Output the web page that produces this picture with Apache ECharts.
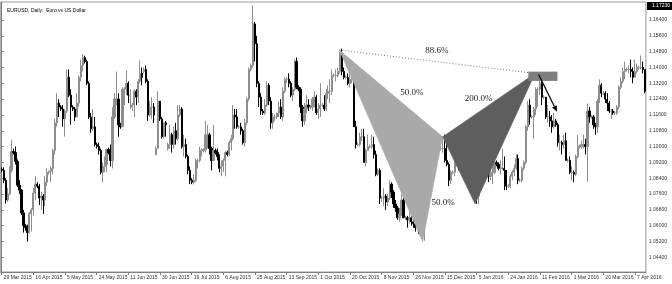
<!DOCTYPE html>
<html><head><meta charset="utf-8">
<script src="https://cdn.jsdelivr.net/npm/echarts@6/dist/echarts.min.js"></script>
<style>html,body{margin:0;padding:0;background:#fff}#c{width:672px;height:284px}</style>
</head><body><div id="c"></div>
<script>
// Tick labels on the time axis (one every 16 bars)
const tickLabels = ['29 Mar 2015','16 Apr 2015','5 May 2015','24 May 2015','11 Jun 2015','30 Jun 2015','19 Jul 2015','6 Aug 2015','25 Aug 2015','13 Sep 2015','1 Oct 2015','20 Oct 2015','8 Nov 2015','26 Nov 2015','15 Dec 2015','5 Jan 2016','24 Jan 2016','11 Feb 2016','1 Mar 2016','20 Mar 2016','7 Apr 2016'];
// Price scale ticks
const priceTicks = [1.044,1.052,1.060,1.068,1.076,1.084,1.092,1.100,1.108,1.116,1.124,1.132,1.140,1.148,1.156,1.164];

// Daily bars, price x 10000
const O = [
10885,10880,10830,10730,10760,10880, 10975,10970,10925,10805,10780,10665, 10600,10590,10565,10660,10680,10765,
10810,10800,10740,10750,10730,10820, 10870,10875,10890,10980,11120,11220, 11200,11190,11140,11180,11350,11260,
11200,11190,11150,11220,11350,11410, 11450,11430,11320,11150,11090,11100, 11010,11000,10980,10870,10900,10910,
10985,10970,10930,11150,11240,11240, 11110,11100,11290,11290,11320,11260, 11200,11210,11280,11250,11330,11370,
11380,11390,11330,11160,11200,11200, 10960,10990,11230,11140,11050,11120, 10990,11010,11060,11010,11080,11040,
11160,11190,11000,11010,10950,10880, 10830,10820,10830,10930,10930,10980, 10980,10985,11060,11060,10990,10930,
10980,10970,10950,10890,10900,10930, 10970,10960,11020,11040,11160,11150, 11100,11100,11080,11020,11120,11240,
11390,11410,11620,11520,11320,11250, 11180,11170,11210,11310,11230,11120, 11150,11150,11170,11200,11150,11280,
11340,11340,11320,11260,11290,11430, 11300,11290,11200,11130,11190,11210, 11200,11200,11240,11250,11170,11190,
11210,11210,11190,11270,11280,11280, 11360,11360,11360,11380,11470,11380, 11350,11350,11320,11340,11340,11100,
11010,11010,11050,11050,10920,10980, 11000,11000,11010,10960,10860,10880, 10740,10740,10750,10720,10740,10810,
10770,10710,10690,10640,10660,10730, 10640,10640,10630,10640,10620,10610, 10590,10590,10560,10630,10610,10940,
10880,10880,10830,10890,11020,10990, 10990,10990,10990,10930,10910,10830, 10870,10870,10920,10950,10920,
10960,10960,10970,10940,10930, 10860,10850,10830,10750,10780,10930, 10920,10920,10860,10850,10870,10870,
10920,10910,10890,10890,10890,10880, 10800,10800,10850,10870,10890,10940, 10830,10830,10890,10920,11100,11210,
11150,11150,11190,11290,11290,11320, 11250,11250,11150,11150,11130,11100, 11130,11110,11020,11020,11010,11030,
10930,10930,10870,10870,10860,10950, 11000,11000,11010,11010,11000,11180, 11150,11150,11110,11100,11230,11310,
11270,11270,11240,11220,11180,11180, 11170,11170,11200,11300,11330,11380, 11390,11390,11390,11380,11350,11380,
11400,11400,11400,11390];
const H = [
10895,10895,10840,10790,10900,11035, 10990,11000,10935,10830,10785,10680, 10610,10605,10670,10690,10790,10850,
10820,10810,10770,10760,10850,10890, 10880,10900,10990,11140,11270,11240, 11210,11210,11190,11390,11390,11290,
11210,11200,11270,11360,11440,11467, 11460,11440,11330,11170,11190,11150, 11020,11020,10990,10920,10950,10990,
10995,11010,11200,11270,11380,11270, 11120,11300,11300,11385,11330,11290, 11220,11290,11290,11340,11436,11400,
11400,11410,11340,11230,11250,11220, 11000,11280,11230,11150,11120,11130, 11020,11110,11070,11100,11120,11210,
11210,11200,11060,11040,10960,10900, 10840,10860,10940,10940,11000,10990, 10990,11130,11110,11070,11000,11110,
10990,10990,10960,10930,10940,10980, 10980,11030,11060,11210,11190,11190, 11110,11120,11090,11140,11250,11400,
11420,11714,11630,11560,11330,11270, 11190,11240,11330,11320,11250,11170, 11160,11170,11230,11240,11300,11350,
11350,11370,11330,11300,11440,11450, 11310,11300,11210,11220,11260,11240, 11210,11250,11280,11260,11220,11320,
11220,11260,11290,11310,11340,11390, 11370,11390,11400,11480,11495,11400, 11360,11370,11380,11380,11360,11130,
11020,11070,11090,11090,10990,11060, 11010,11060,11050,10980,10890,10890, 10750,10790,10760,10760,10830,10820,
10780,10730,10700,10690,10760,10740, 10650,10650,10690,10650,10630,10620, 10600,10600,10640,10640,10980,10960,
10890,10890,10900,11040,11040,11030, 11000,11050,11060,11020,10920,10880, 10880,10950,10970,10960,10970,
10970,10990,11000,10950,10940, 10870,10940,10840,10790,10970,10940, 10930,10930,10890,10900,10940,10960,
10930,10920,10930,10990,10950,10880, 10810,10860,10880,10910,10960,10960, 10840,10900,10930,11110,11230,11240,
11160,11200,11300,11300,11376,11330, 11260,11250,11210,11180,11160,11170, 11140,11120,11060,11030,11060,11070,
10940,10950,10900,10880,10960,11060, 11010,11030,11060,11040,11218,11200, 11160,11160,11120,11240,11340,11320,
11280,11280,11270,11230,11190,11190, 11180,11210,11310,11350,11400,11430, 11400,11410,11440,11400,11440,11420,
11410,11460,11430,11390];
const L = [
10870,10815,10712,10720,10755,10870, 10960,10910,10795,10760,10655,10565, 10575,10520,10560,10570,10650,10730,
10790,10705,10680,10660,10700,10800, 10860,10820,10860,10960,11100,11150, 11180,11100,11050,11170,11250,11110,
11180,11130,11150,11200,11330,11380, 11420,11310,11140,11070,11080,11000, 10990,10960,10860,10819,10870,10870,
10960,10900,10890,11140,11210,11050, 11090,11100,11210,11260,11220,11190, 11180,11150,11210,11220,11320,11310,
11370,11320,11130,11150,11140,11120, 10955,10990,11130,11040,11040,11050, 10980,10990,10970,10990,11010,11030,
11150,10990,10950,10940,10860,10810, 10810,10808,10820,10890,10920,10950, 10970,10970,10990,10960,10880,10930,
10960,10930,10870,10850,10870,10850, 10950,10950,10980,11030,11090,11090, 11090,11060,11010,11000,11110,11230,
11380,11400,11430,11300,11200,11160, 11160,11160,11200,11210,11090,11090, 11130,11140,11150,11140,11130,11270,
11320,11300,11250,11230,11280,11290, 11280,11170,11100,11110,11170,11180, 11190,11180,11200,11160,11140,11150,
11200,11180,11180,11240,11220,11260, 11350,11330,11350,11370,11360,11340, 11340,11310,11300,11320,11100,10990,
11000,11000,11030,10920,10900,10980, 10990,10990,10940,10850,10850,10710, 10720,10700,10680,10700,10730,10740,
10690,10670,10630,10620,10650,10640, 10630,10590,10610,10600,10590,10570, 10580,10560,10550,10530,10524,10800,
10870,10800,10800,10880,10920,10950, 10980,10970,10920,10900,10800,10810, 10860,10850,10900,10880,10910,
10950,10940,10930,10900,10850, 10840,10780,10711,10710,10770,10800, 10910,10840,10820,10830,10810,10860,
10900,10880,10860,10880,10780,10780, 10790,10790,10830,10850,10880,10810, 10820,10820,10880,10910,11080,11110,
11140,11040,11160,11200,11260,11210, 11240,11140,11120,11100,11070,11090, 11100,11000,10980,10960,10990,10930,
10920,10860,10830,10820,10850,10940, 10990,10990,10990,10960,10822,11120, 11140,11090,11060,11070,11220,11250,
11260,11220,11180,11170,11140,11160, 11160,11160,11190,11290,11320,11340, 11380,11370,11350,11320,11350,11370,
11390,11390,11370,11270];
const C = [
10880,10830,10730,10760,10880,10975, 10970,10925,10805,10780,10665,10600, 10590,10565,10660,10680,10765,10810,
10800,10740,10750,10730,10820,10870, 10875,10890,10980,11120,11220,11200, 11190,11140,11180,11350,11260,11200,
11190,11150,11220,11350,11410,11450, 11430,11320,11150,11090,11100,11010, 11000,10980,10870,10900,10910,10985,
10970,10930,11150,11240,11240,11110, 11100,11290,11290,11320,11260,11260, 11210,11280,11250,11330,11370,11350,
11390,11330,11160,11200,11200,11160, 10990,11230,11140,11050,11120,11110, 11010,11060,11010,11080,11040,11160,
11190,11000,11010,10950,10880,10830, 10820,10830,10930,10930,10980,10980, 10985,11060,11060,10990,10930,10980,
10970,10950,10890,10900,10930,10970, 10960,11020,11040,11160,11150,11100, 11100,11080,11020,11120,11240,11390,
11410,11620,11520,11320,11250,11180, 11170,11210,11310,11230,11120,11150, 11150,11170,11200,11150,11280,11340,
11340,11320,11260,11290,11430,11300, 11290,11200,11130,11190,11210,11200, 11200,11240,11250,11170,11190,11210,
11210,11190,11270,11280,11280,11360, 11360,11360,11380,11470,11380,11350, 11350,11320,11340,11340,11100,11010,
11010,11050,11050,10920,10980,11000, 11000,11010,10960,10860,10880,10740, 10740,10750,10720,10740,10810,10770,
10710,10690,10640,10660,10730,10640, 10640,10630,10640,10620,10610,10590, 10590,10560,10630,10610,10940,10880,
10880,10830,10890,11020,10990,10990, 10990,10990,10930,10910,10830,10870, 10870,10920,10950,10920,10960,
10960,10970,10940,10930,10860, 10850,10830,10750,10780,10930,10920, 10920,10860,10850,10870,10870,10920,
10910,10890,10890,10890,10880,10800, 10800,10850,10870,10890,10940,10830, 10830,10890,10920,11100,11210,11150,
11150,11190,11290,11290,11320,11250, 11250,11150,11150,11130,11100,11130, 11110,11020,11020,11010,11030,10930,
10930,10870,10870,10860,10950,11000, 11000,11010,11010,11000,11180,11150, 11150,11110,11100,11230,11310,11270,
11270,11240,11220,11180,11180,11170, 11170,11200,11300,11330,11380,11390, 11390,11390,11380,11350,11380,11400,
11400,11400,11390,11280];

// Harmonic pattern points X, A, B, C, D (bar index, price)
const patIdx = [170.6, 212.7, 222.8, 239.2, 269.5];
const patPx  = [1.1488, 1.0519, 1.1050, 1.0710, 1.1370];
// Ratio labels
const ratioText = ['88.6%', '50.0%', '200.0%', '50.0%'];
const ratioIdx  = [219.9, 207.3, 241.0, 223.0];
const ratioPx   = [1.1483, 1.1274, 1.1240, 1.0715];
// Target zone and arrow
const zoneIdx = [266.1, 280.8];
const zonePx  = [1.1332, 1.1379];
const arrowIdx = [271.3, 280.6];
const arrowPx  = [1.1365, 1.1176];
const lastPriceLabel = '1.17230';

const N = O.length;
const cats = O.map((_, i) => i);
const candles = O.map((o, i) => [o / 1e4, C[i] / 1e4, L[i] / 1e4, H[i] / 1e4]);

const chart = echarts.init(document.getElementById('c'), null, {renderer: 'canvas'});
const font = 'Liberation Sans';

function renderOverlay(params, api) {
  const p = (i, v) => api.coord([i, v]);
  const P = patIdx.map((x, k) => p(x, patPx[k]));
  const children = [];
  children.push({type: 'polygon', shape: {points: [P[0], P[1], P[2]]}, style: {fill: '#a9a9a9', stroke: '#a9a9a9', lineWidth: 0.5}});
  children.push({type: 'polygon', shape: {points: [P[2], P[3], P[4]]}, style: {fill: '#5e5e5e', stroke: '#5e5e5e', lineWidth: 0.5}});
  children.push({type: 'line', shape: {x1: P[0][0], y1: P[0][1], x2: P[4][0], y2: P[4][1]}, style: {stroke: '#555', lineWidth: 0.8, lineDash: [1, 2]}});
  const z1 = p(zoneIdx[0], zonePx[1]), z2 = p(zoneIdx[1], zonePx[0]);
  children.push({type: 'rect', shape: {x: z1[0], y: z1[1], width: z2[0] - z1[0], height: z2[1] - z1[1]}, style: {fill: '#7f7f7f'}});
  const a1 = p(arrowIdx[0], arrowPx[0]), a2 = p(arrowIdx[1], arrowPx[1]);
  const dx = a2[0] - a1[0], dy = a2[1] - a1[1], len = Math.hypot(dx, dy), ux = dx / len, uy = dy / len;
  const hl = 6, hw = 2.6;
  const bx = a2[0] - ux * hl, by = a2[1] - uy * hl;
  children.push({type: 'line', shape: {x1: a1[0], y1: a1[1], x2: bx, y2: by}, style: {stroke: '#000', lineWidth: 1.2}});
  children.push({type: 'polygon', shape: {points: [a2, [bx - uy * hw, by + ux * hw], [bx + uy * hw, by - ux * hw]]}, style: {fill: '#000'}});
  ratioText.forEach((t, k) => {
    const q = p(ratioIdx[k], ratioPx[k]);
    children.push({type: 'text', style: {text: t, x: q[0], y: q[1], fill: '#222', font: '9px "Liberation Serif"', align: 'center', verticalAlign: 'middle', textAlign: 'center', textVerticalAlign: 'middle'}});
  });
  return {type: 'group', children};
}

chart.setOption({
  animation: false,
  backgroundColor: '#fff',
  title: {text: 'EURUSD, Daily:  Euro vs US Dollar', left: 2, top: 3, textStyle: {fontSize: 5, fontWeight: 'normal', color: '#000', fontFamily: font}},
  grid: {left: 0.7, right: 26.1, top: 2, bottom: 12, show: true, borderColor: '#9a9a9a', borderWidth: 1},
  xAxis: [{
    type: 'category', data: cats, boundaryGap: true,
    axisLine: {lineStyle: {color: '#808080'}},
    axisTick: {show: true, interval: 15, alignWithLabel: true, length: 3, lineStyle: {color: '#808080'}},
    axisLabel: {interval: 15, fontSize: 5, color: '#333', fontFamily: font, align: 'left', margin: 3, padding: [0, 0, 0, 2],
      formatter: (v, i) => tickLabels[Math.round(i / 16)] || ''},
    splitLine: {show: false}
  }, {
    type: 'value', min: -0.5, max: N - 0.5, show: false
  }],
  yAxis: {
    type: 'value', position: 'right', min: 1.0366, max: 1.1731, scale: true,
    axisLine: {show: true, lineStyle: {color: '#808080'}},
    axisTick: {show: true, length: 2, customValues: priceTicks, lineStyle: {color: '#808080'}},
    axisLabel: {customValues: priceTicks, fontSize: 5, color: '#333', fontFamily: font, margin: 3, formatter: v => v.toFixed(5)},
    splitLine: {show: false}
  },
  graphic: [
    {type: 'rect', right: 0, top: 2, shape: {width: 25, height: 8}, style: {fill: '#000'}, z: 100},
    {type: 'text', right: 2, top: 3.5, style: {text: lastPriceLabel, fill: '#fff', font: '5px "Liberation Sans"'}, z: 101}
  ],
  series: [{
    type: 'candlestick', data: candles, barWidth: 1.7,
    itemStyle: {color: '#8e8e8e', color0: '#000', borderColor: '#8e8e8e', borderColor0: '#000', borderWidth: 1}
  }, {
    type: 'custom', xAxisIndex: 1, yAxisIndex: 0, data: [[0, 1.1]], renderItem: renderOverlay, z: 10, silent: true
  }]
});
</script></body></html>
